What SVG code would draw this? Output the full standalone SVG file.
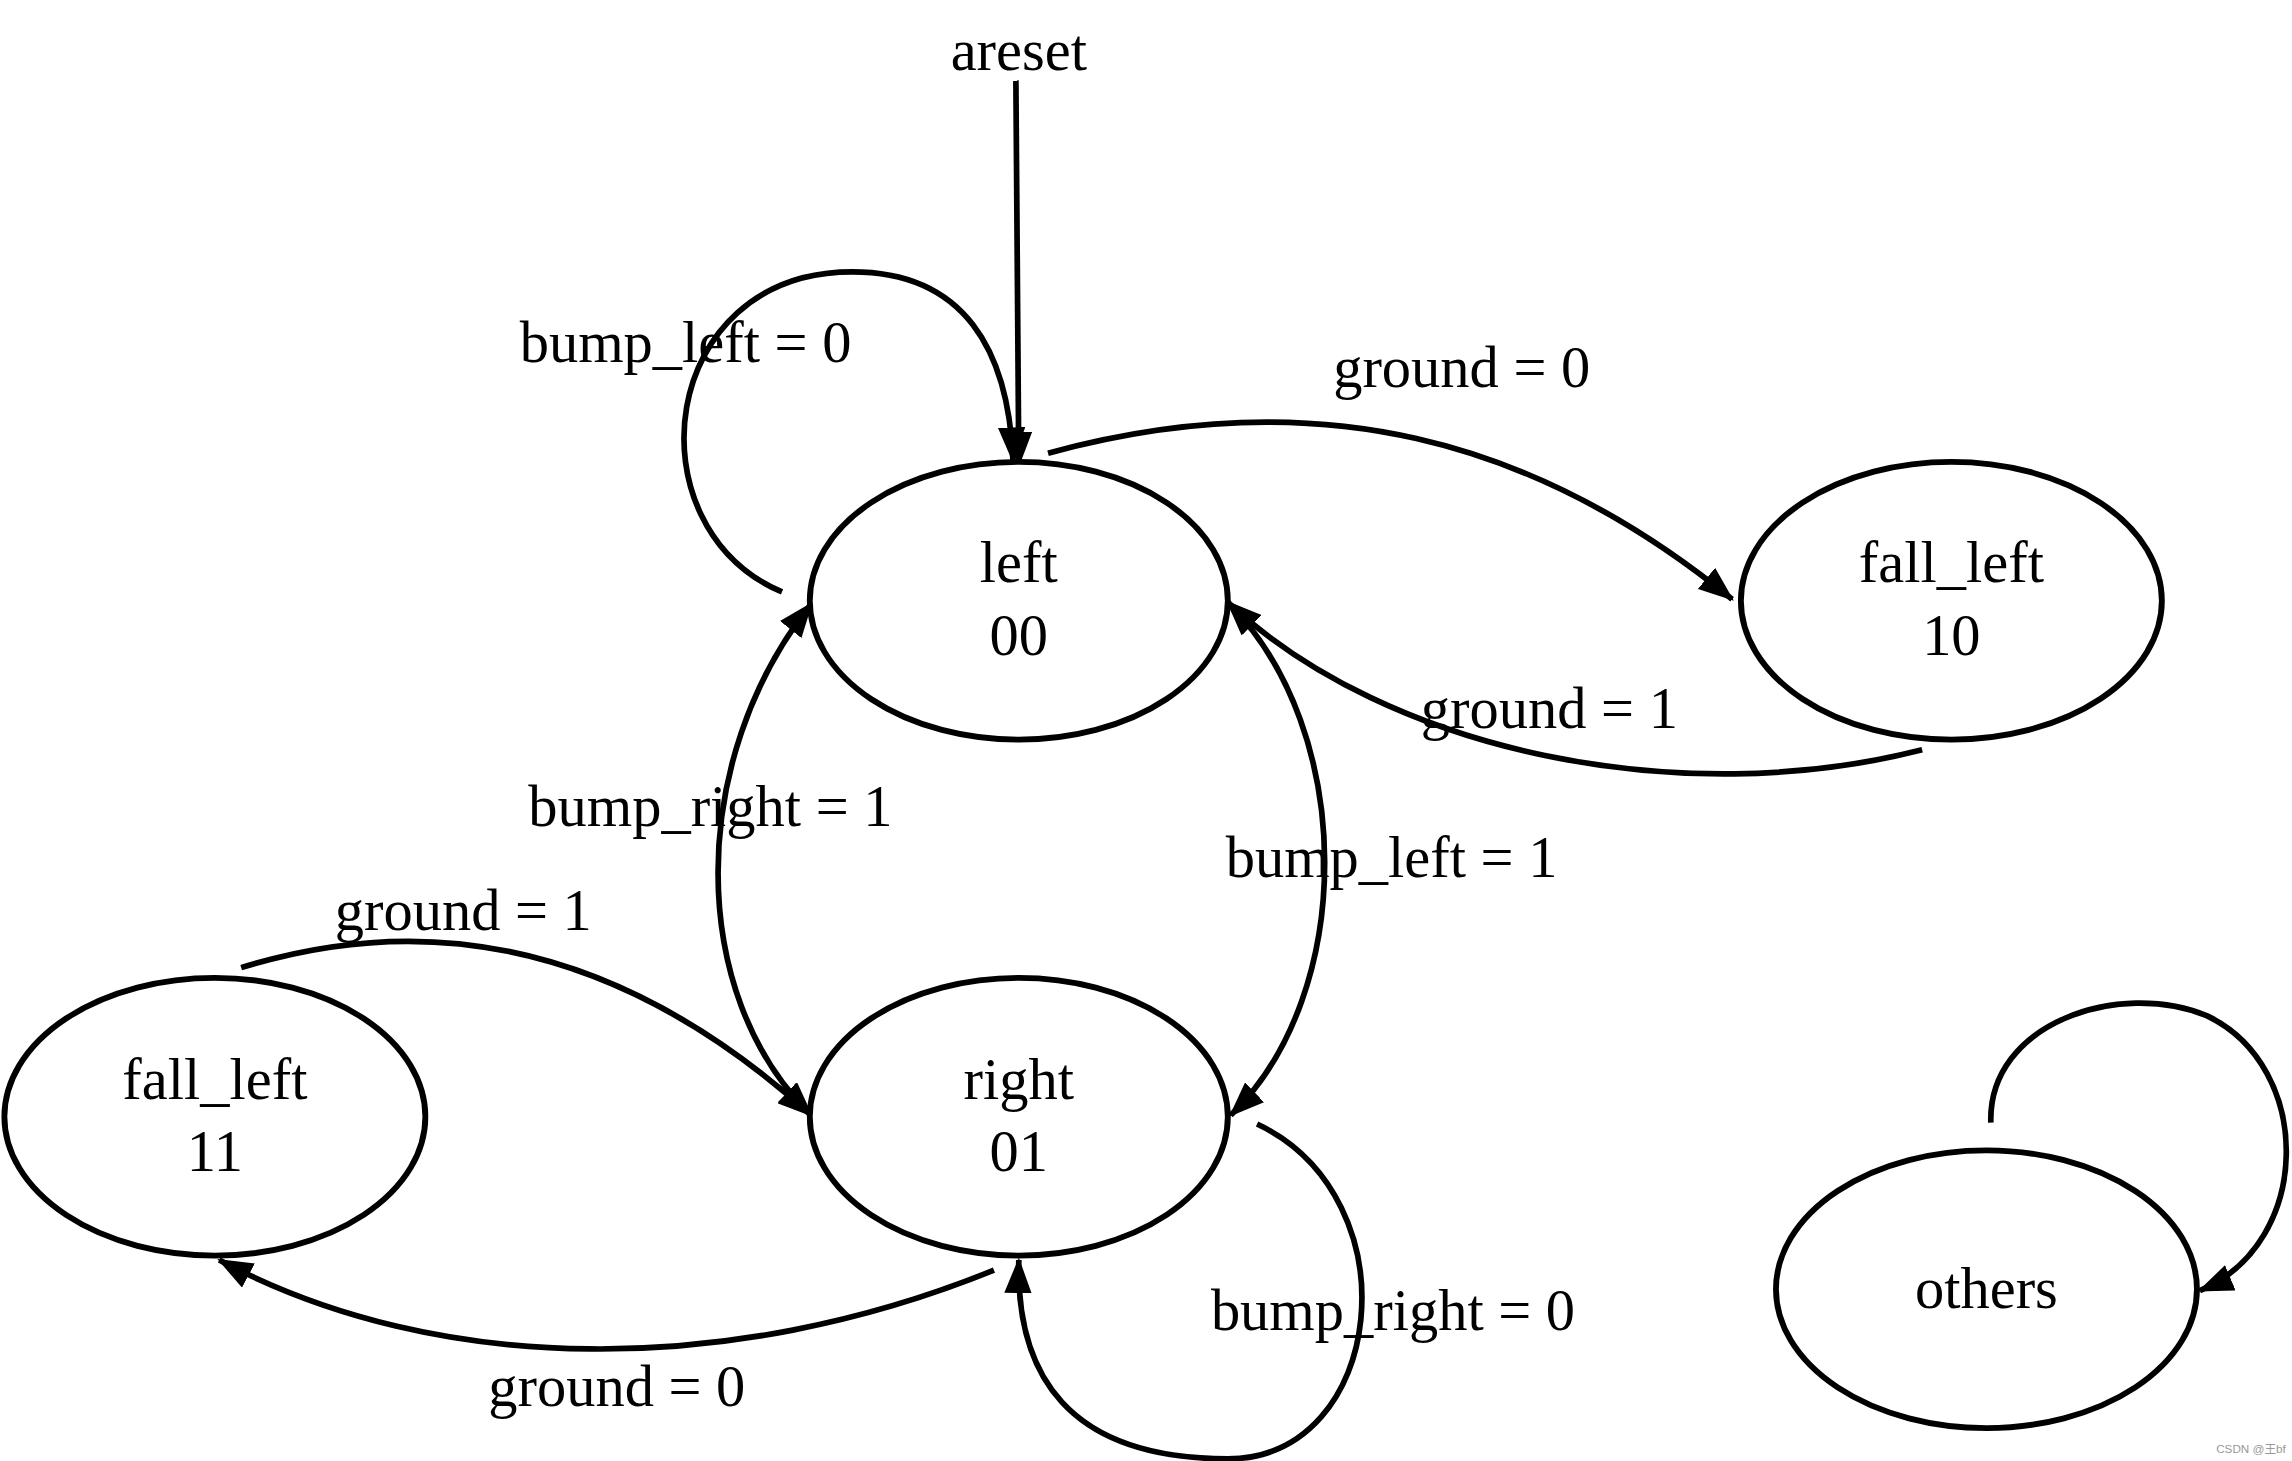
<svg xmlns="http://www.w3.org/2000/svg" width="2292" height="1461" viewBox="0 0 2292 1461">
<defs>
<marker id="ah" markerWidth="6.2" markerHeight="4.8" refX="5.8" refY="2.4" orient="auto-start-reverse" markerUnits="strokeWidth">
<path d="M0,0 L6.2,2.4 L0,4.8 Z" fill="#000"/>
</marker>
<style>
.n{fill:#fff;stroke:#000;stroke-width:4}
.e{fill:none;stroke:#000;stroke-width:3.9;marker-end:url(#ah)}
.b{marker-start:url(#ah)}
text{font-family:"Liberation Serif","Times New Roman",serif;font-size:40px;text-anchor:middle;fill:#000}
</style>
</defs>
<rect width="2292" height="1461" fill="#fff"/>
<g transform="scale(1.4617)">
<g id="connectors">
<path class="e" d="M695,55 L697,318"/>
<path class="e" d="M535,405 C430,360 450,186 583,186 C660,186 690,240 693,315"/>
<path class="e" d="M717,310 C900,260 1050,300 1185,410"/>
<path class="e" d="M1315,513 C1150,555 950,515 840,412"/>
<path class="e b" d="M555,413 C470,520 470,680 555,763"/>
<path class="e b" d="M840,412 C928,500 928,680 842,763"/>
<path class="e" d="M165,662 C300,620 430,650 555,763"/>
<path class="e" d="M680,869 C500,942 300,942 150,862"/>
<path class="e" d="M860,769 C968,820 948,998 840,998 C730,998 695,940 697,862"/>
<path class="e" d="M1362,768 C1360,700 1450,670 1510,695 C1583,730 1583,850 1505,883"/>
</g>
<g id="labels">
<text x="469" y="248">bump_left = 0</text>
<text x="1000" y="265">ground = 0</text>
<text x="1060" y="498">ground = 1</text>
<text x="486" y="565">bump_right = 1</text>
<text x="952" y="600">bump_left = 1</text>
<text x="317" y="636">ground = 1</text>
<text x="422" y="962">ground = 0</text>
<text x="953" y="910">bump_right = 0</text>
<text x="697" y="48">areset</text>
</g>
<g id="left"><ellipse class="n" cx="697" cy="411" rx="143" ry="95"/><text x="697" y="398">left</text><text x="697" y="448">00</text></g>
<g id="fall_left10"><ellipse class="n" cx="1335" cy="411" rx="144" ry="95"/><text x="1335" y="398">fall_left</text><text x="1335" y="448">10</text></g>
<g id="right"><ellipse class="n" cx="697" cy="764" rx="143" ry="95"/><text x="697" y="752">right</text><text x="697" y="801">01</text></g>
<g id="fall_left11"><ellipse class="n" cx="147" cy="764" rx="144" ry="95"/><text x="147" y="752">fall_left</text><text x="147" y="801">11</text></g>
<g id="others"><ellipse class="n" cx="1359" cy="882" rx="144" ry="95"/><text x="1359" y="895">others</text></g>
<text x="1540" y="994" style="font-family:'Liberation Sans','Noto Sans CJK SC',sans-serif;font-size:8px;fill:#999">CSDN @王bf</text>
</g>
</svg>
